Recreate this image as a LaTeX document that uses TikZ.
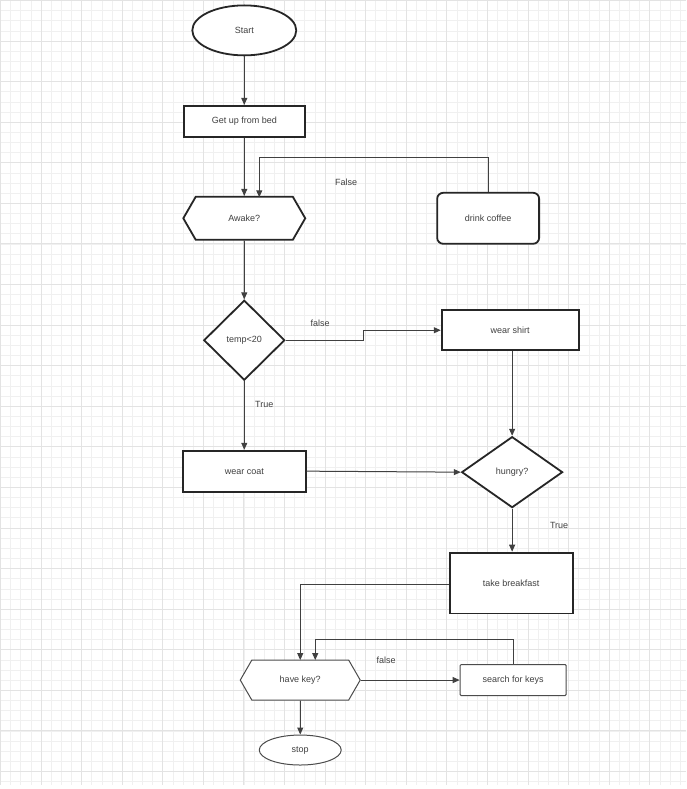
\documentclass[tikz,border=0pt]{standalone}
\usepackage{fontspec}
\setmainfont{Liberation Sans}
\usetikzlibrary{shapes.geometric,shapes.symbols,arrows.meta}
\begin{document}
\begin{tikzpicture}[x=1pt,y=-1pt,
  every node/.style={font=\fontsize{9}{11}\selectfont, text=black!75},
  thk/.style={draw=black!85, line width=1.8pt, fill=white},
  thn/.style={draw=black!70, line width=1pt, fill=white},
  conn/.style={draw=black!75, line width=1pt, -{Triangle[length=7pt,width=6pt]}},
  lbl/.style={text=black!75}]
\fill[white] (0,0) rectangle (686,789);
\foreach \x in {0,10.15,...,686} \draw[black!6, line width=0.6pt] (\x,0) -- (\x,785);
\foreach \y in {0,10.15,...,785} \draw[black!6, line width=0.6pt] (0,\y) -- (686,\y);
\foreach \x in {0,40.6,...,686} \draw[black!11, line width=0.8pt] (\x,0) -- (\x,785);
\foreach \y in {0,40.6,...,785} \draw[black!11, line width=0.8pt] (0,\y) -- (686,\y);
\useasboundingbox (0,0) rectangle (686,789);

\node[ellipse, thk, minimum width=104pt, minimum height=50pt] (start) at (244,30) {Start};
\node[rectangle, thk, minimum width=121pt, minimum height=31pt] (bed) at (244,121) {Get up from bed};
\node[signal, signal to=west and east, signal pointer angle=120, thk, minimum width=122pt, minimum height=43pt, inner sep=0pt] (awake) at (244,218) {Awake?};
\node[rectangle, rounded corners=6pt, thk, minimum width=102pt, minimum height=51pt] (coffee) at (488,218) {drink coffee};
\node[diamond, thk, minimum width=81pt, minimum height=80pt, inner sep=0pt] (temp) at (244,340) {temp<20};
\node[rectangle, thk, minimum width=137pt, minimum height=40pt] (shirt) at (510,330) {wear shirt};
\node[rectangle, thk, minimum width=123pt, minimum height=41pt] (coat) at (244,471) {wear coat};
\node[diamond, thk, minimum width=101pt, minimum height=71pt, inner sep=0pt] (hungry) at (512,472) {hungry?};
\node[rectangle, thk, minimum width=123pt, minimum height=61pt] (bf) at (511,583) {take breakfast};
\node[signal, signal to=west and east, signal pointer angle=120, thn, minimum width=120pt, minimum height=40pt, inner sep=0pt] (key) at (300,680) {have key?};
\node[rectangle, rounded corners=1pt, thn, minimum width=106pt, minimum height=31pt] (search) at (513,680) {search for keys};
\node[ellipse, thn, minimum width=82pt, minimum height=30pt] (stop) at (300,750) {stop};

\draw[conn] (start) -- (bed);
\draw[conn] (bed) -- (awake.north -| bed);
\draw[conn] (coffee.north) |- (259,157) -- (259,197);
\draw[conn] (awake) -- (temp);
\draw[conn] (temp.east) -- (363,340) -- (363,330) -- (shirt.west);
\draw[conn] (temp) -- (coat);
\draw[conn] (shirt.south -| 512,0) -- (hungry.north);
\draw[conn] (coat.east) -- (hungry.west);
\draw[conn] (hungry.south) -- (bf.north -| 512,0);
\draw[conn] (bf.west |- 0,584) -| (300,660);
\draw[conn] (key.east) -- (search.west);
\draw[conn] (search.north) |- (315,639) -- (315,660);
\draw[conn] (key) -- (stop);

\node[lbl] at (346,182) {False};
\node[lbl] at (320,323) {false};
\node[lbl] at (264,404) {True};
\node[lbl] at (559,525) {True};
\node[lbl] at (386,660) {false};
\end{tikzpicture}
\end{document}
